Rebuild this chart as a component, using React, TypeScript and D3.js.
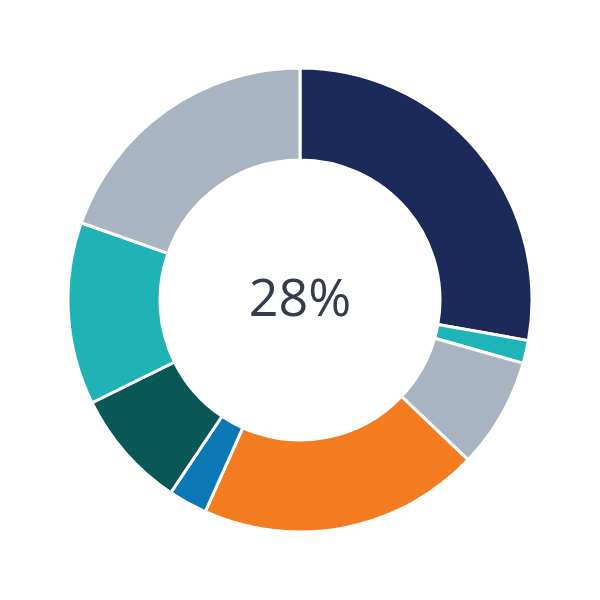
import React, { useRef, useEffect } from 'react';
import * as d3 from 'd3';

const categories = ['A', 'B', 'C', 'D', 'E', 'F', 'G', 'H'];
const values = [27.8, 1.6, 7.7, 19.6, 2.7, 8.3, 12.7, 19.6];
const colors = ['#1c2a5a', '#1fb4b8', '#a9b4c2', '#f47c20', '#0b77b5', '#0a5757', '#1fb3b6', '#a9b4c2'];
const centerLabel = '28%';

const App = () => {
  const ref = useRef<SVGSVGElement>(null);

  useEffect(() => {
    const svg = d3.select(ref.current);
    svg.selectAll('*').remove();

    const width = 600;
    const height = 600;
    const outer = 232;
    const inner = 140;

    const g = svg.append('g').attr('transform', `translate(${width / 2}, ${height / 2})`);

    const data = categories.map((c, i) => ({ c, v: values[i], color: colors[i] }));

    const pie = d3
      .pie<{ c: string; v: number; color: string }>()
      .sort(null)
      .value((d) => d.v);

    const arc = d3
      .arc<d3.PieArcDatum<{ c: string; v: number; color: string }>>()
      .innerRadius(inner)
      .outerRadius(outer);

    g.selectAll('path')
      .data(pie(data))
      .enter()
      .append('path')
      .attr('d', arc)
      .attr('fill', (d) => d.data.color)
      .attr('stroke', '#fff')
      .attr('stroke-width', 3);

    g.append('text')
      .attr('text-anchor', 'middle')
      .attr('dy', '0.35em')
      .attr('y', -2)
      .attr('font-family', 'Open Sans, sans-serif')
      .attr('font-size', 52)
      .attr('fill', '#333c48')
      .text(centerLabel);
  }, []);

  return (
    <svg
      ref={ref}
      width={600}
      height={600}
      style={{ position: 'absolute', left: 0, top: 0, background: '#fff' }}
    />
  );
};

export default App;
